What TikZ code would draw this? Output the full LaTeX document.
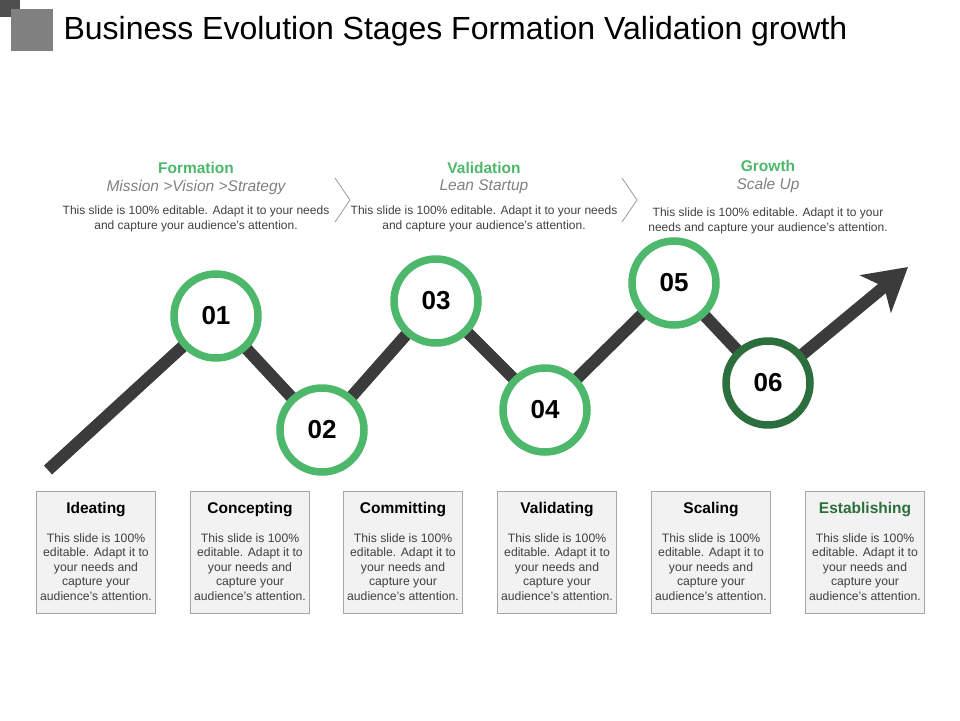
\documentclass[tikz,border=0pt]{standalone}
\usepackage{fontspec}
\setmainfont{Liberation Sans}
\usetikzlibrary{arrows.meta}
\definecolor{gr}{HTML}{4DB86B}
\definecolor{dg}{HTML}{2C6E3D}
\definecolor{ln}{HTML}{3B3B3B}
\definecolor{tx}{HTML}{404040}
\begin{document}
\begin{tikzpicture}[x=1pt,y=-1pt,
 circ/.style={circle,draw=gr,line width=7.5pt,fill=white,minimum size=84pt,inner sep=0,font=\bfseries\fontsize{26}{26}\selectfont},
 head/.style={text=gr,font=\bfseries\fontsize{15.5}{16}\selectfont},
 sub/.style={text=gray,font=\itshape\fontsize{15.5}{16}\selectfont},
 body/.style={text=tx,align=center,font=\fontsize{12}{14.3}\selectfont},
 box/.style={draw=gray!70,fill=gray!10,minimum width=119pt,minimum height=122pt,anchor=north},
 btitle/.style={font=\bfseries\fontsize{15.5}{16}\selectfont},
 bbody/.style={text=tx,align=center,font=\fontsize{12.2}{14.5}\selectfont},
 chev/.style={draw=gray!80,line width=0.8pt}]
\useasboundingbox (0,0) rectangle (960,720);
\fill[ln!90] (0,0) rectangle (20,17);
\fill[gray] (11,9) rectangle (53,51);
\node[anchor=west,font=\fontsize{32}{32}\selectfont] (title) at (60,31) {Business Evolution Stages Formation Validation growth};
\coordinate (s) at (48,470);
\coordinate (t) at (908,267);
\coordinate (p1) at (216,316);
\coordinate (p2) at (322,430);
\coordinate (p3) at (436,301);
\coordinate (p4) at (545,410);
\coordinate (p5) at (674,283);
\coordinate (p6) at (768,383);
\draw[ln,line width=12pt] (s) -- (p1) -- (p2) -- (p3) -- (p4) -- (p5) -- (p6);
\draw[ln,line width=12pt,-{Stealth[length=42pt,width=48pt,inset=11pt]}] (p6) -- (t);
\node[circ] (c1) at (p1) {01};
\node[circ] (c2) at (p2) {02};
\node[circ] (c3) at (p3) {03};
\node[circ] (c4) at (p4) {04};
\node[circ] (c5) at (p5) {05};
\node[circ,draw=dg] (c6) at (p6) {06};
\node[head] (h1) at (196,168) {Formation};
\node[sub] (s1) at (196,187) {Mission >Vision >Strategy};
\node[body] (b1) at (196,219) {This slide is 100\% editable. Adapt it to your needs\\and capture your audience's attention.};
\node[head] (h2) at (484,168) {Validation};
\node[sub] (s2) at (484,187) {Lean Startup};
\node[body] (b2) at (484,219) {This slide is 100\% editable. Adapt it to your needs\\and capture your audience's attention.};
\node[head] (h3) at (768,166) {Growth};
\node[sub] (s3) at (768,185) {Scale Up};
\node[body] (b3) at (768,221) {This slide is 100\% editable. Adapt it to your\\needs and capture your audience's attention.};
\draw[chev] (335,178) -- (350,200) -- (335,222);
\draw[chev] (622,178) -- (637,200) -- (622,222);
\foreach \n/\x/\t in {1/96/Ideating,2/250/Concepting,3/403/Committing,4/557/Validating,5/711/Scaling}{
 \node[box] (bx\n) at (\x,491) {};
 \node[btitle] (bt\n) at (\x,510) {\t};
 \node[bbody] (bb\n) at (\x,567) {This slide is 100\%\\editable. Adapt it to\\your needs and\\capture your\\audience's attention.};
}
\node[box] (bx6) at (865,491) {};
\node[btitle,text=dg] (bt6) at (865,510) {Establishing};
\node[bbody] (bb6) at (865,567) {This slide is 100\%\\editable. Adapt it to\\your needs and\\capture your\\audience's attention.};
\end{tikzpicture}
\end{document}
